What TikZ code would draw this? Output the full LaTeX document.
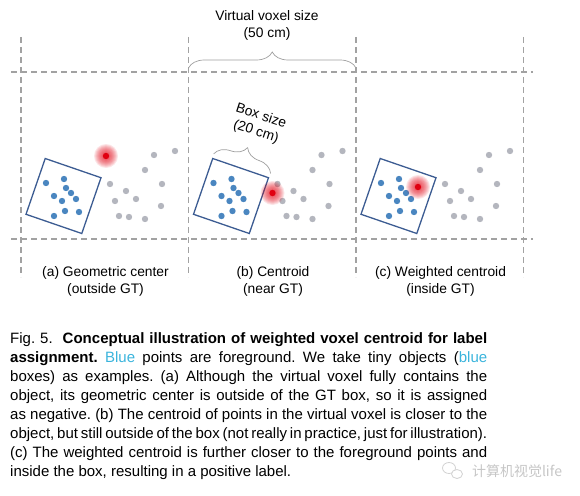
\documentclass[tikz,border=0pt]{standalone}
\usepackage{fontspec}
\setmainfont{Liberation Sans}
\newfontfamily\cjkfont{Noto Sans CJK SC}
\usepackage{xcolor}
\usetikzlibrary{calc,decorations.pathreplacing}

\definecolor{ptblue}{HTML}{4A86C0}
\definecolor{boxblue}{HTML}{3C5C92}
\definecolor{ptgray}{HTML}{B4B6BE}
\definecolor{gridgray}{HTML}{A2A2A2}
\definecolor{capblue}{HTML}{3AB4DC}
\definecolor{ctrred}{HTML}{E00010}

\tikzset{
	grid line/.style={gridgray, line width=1.1pt, dash pattern=on 6pt off 4pt},
	gtbox/.style={draw=boxblue, line width=1.3pt, minimum size=59pt, inner sep=0pt, rotate=-19},
	sizebrace/.style={decorate, decoration={brace, amplitude=#1, raise=4pt}, gray!75, line width=0.7pt},
	lab/.style={font=\fontsize{13.8}{16.5}\selectfont, align=center, inner sep=0pt},
}
\newcommand\capline[1]{\hbox to 477pt{#1}}

\begin{document}
\frenchspacing
\begin{tikzpicture}[x=1pt,y=-1pt]
	\useasboundingbox (0,0) rectangle (580,495);
	% voxel grid
	\draw[grid line] (11,72)--(533,72);
	\draw[grid line] (11,239)--(533,239);
	\foreach \x in {21,188.5,356,523.5}
		\draw[grid line] (\x,37)--(\x,277);
	\coordinate (v1) at (188.5,72);
	\coordinate (v2) at (356,72);
	\draw[sizebrace=16pt] (v1)--(v2);
	\node[lab] (vsize) at (267,25.5) {Virtual voxel size\\(50 cm)};
	% three panels
	\foreach \s/\rx/\ry/\n/\txt in {0/106/156/a/{(a) Geometric center\\(outside GT)},
			167.5/105/193/b/{(b) Centroid\\(near GT)},
			335/83/187/c/{(c) Weighted centroid\\(inside GT)}}{
		\begin{scope}[xshift=\s pt]
			\node[gtbox] (box\n) at (63.5,196) {};
			\foreach \p in {(46,183),(64,179),(66,188),(71,193),(54,196),
					(62,201),(76,199),(65,211),(79,212),(54,216)}
				\fill[ptblue] \p circle (3.2);
			\foreach \p in {(154,155),(175,151),(145,170),(110,184),(162,184),(126,191),
					(115,201),(136,199),(161,206),(119,216),(129,217),(145,219)}
				\fill[ptgray] \p circle (3.2);
			\coordinate (ctr\n) at (\rx,\ry);
			\foreach \r in {12,11,...,4}
				\fill[ctrred, opacity=0.1] (ctr\n) circle (\r);
			\fill[ctrred] (ctr\n) circle (3.2);
			\node[lab] (lab\n) at (105.5,281.5) {\txt};
		\end{scope}
	}
	\draw[sizebrace=17pt] (boxb.north west)--(boxb.north east);
	\node[lab, rotate=-18] (bsize) at (258.5,124) {Box size\\(20 cm)};
	% caption
	\node[anchor=base west, inner sep=0pt] (caption) at (10,343) {\vtop{\fontsize{15}{19}\selectfont
		\capline{Fig. 5.\hskip 10pt\textbf{Conceptual illustration of weighted voxel centroid for label}}
		\capline{\textbf{assignment.} {\color{capblue}Blue} points are foreground. We take tiny objects ({\color{capblue}blue}}
		\capline{boxes) as examples. (a) Although the virtual voxel fully contains the}
		\capline{object, its geometric center is outside of the GT box, so it is assigned}
		\capline{as negative. (b) The centroid of points in the virtual voxel is closer to the}
		\capline{object, but still outside of the box (not really in practice, just for illustration).}
		\capline{(c) The weighted centroid is further closer to the foreground points and}
		\hbox{inside the box, resulting in a positive label.}}};
	% watermark
	\draw[gray!35, line width=0.8pt] (449,468) ellipse (6.5 and 5.5);
	\draw[gray!35, line width=0.8pt, fill=white] (457,474) ellipse (5.5 and 4.5);
	\node[text=gray!45, font=\cjkfont\fontsize{14}{14}\selectfont, inner sep=0pt] (wmark) at (517,471) {计算机视觉life};
\end{tikzpicture}
\end{document}
